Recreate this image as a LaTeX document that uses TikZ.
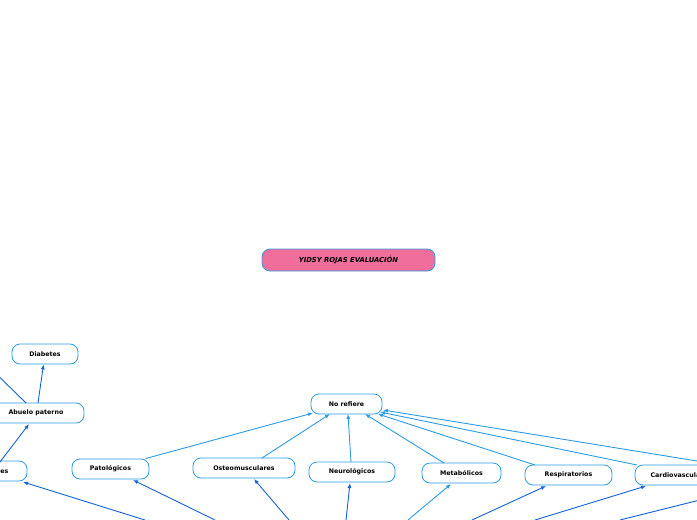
\documentclass[tikz,border=0pt]{standalone}
\usepackage{fontspec}
\setmainfont{DejaVu Sans}
\usetikzlibrary{arrows.meta}
\definecolor{lb}{HTML}{2B9BE3}
\definecolor{db}{HTML}{1462D6}
\definecolor{pk}{HTML}{F06E9B}
\begin{document}
\begin{tikzpicture}[x=1pt,y=-1pt,
  box/.style={draw=lb,line width=0.8pt,rounded corners=8pt,fill=white,minimum height=20pt,inner sep=0pt,font=\bfseries\fontsize{6.3}{7}\selectfont},
  la/.style={lb,line width=0.9pt,-{Latex[length=5pt,width=4pt]}},
  da/.style={db,line width=0.9pt,-{Latex[length=5pt,width=4pt]}}]
\useasboundingbox (0,0) rectangle (697,520);
\begin{scope}
\clip (0,0) rectangle (697,520);
\node[box,fill=pk,minimum width=173pt,minimum height=22pt,font=\bfseries\itshape\fontsize{6.8}{7}\selectfont] (title) at (348.5,260) {YIDSY ROJAS EVALUACIÓN};
\node[box,minimum width=66pt] (dia) at (45,354) {Diabetes};
\node[box,minimum width=96pt] (abu) at (36,413) {Abuelo paterno};
\node[box,minimum width=86pt] (ant) at (-16,471) {Antecedentes};
\node[box,minimum width=77pt] (pat) at (110.5,469) {Patológicos};
\node[box,minimum width=102pt] (ost) at (244,468) {Osteomusculares};
\node[box,minimum width=86pt] (neu) at (352,472) {Neurológicos};
\node[box,minimum width=71pt] (nor) at (346.5,404) {No refiere};
\node[box,minimum width=79pt] (met) at (461.5,473) {Metabólicos};
\node[box,minimum width=87pt] (res) at (568.5,475) {Respiratorios};
\node[box,minimum width=92pt] (car) at (681,475) {Cardiovasculares};
\coordinate (far) at (740,468);
\coordinate (farb) at (740,490);
\coordinate (up) at (-20,358);
\coordinate (s1) at (145,520); \coordinate (s2) at (215,520);
\coordinate (s3) at (289,520); \coordinate (s4) at (346,520);
\coordinate (s5) at (408,520); \coordinate (s6) at (472,520);
\coordinate (s7) at (535,520); \coordinate (s8) at (620,520);
\draw[la] (pat.north east) ++(-4,0) -- (313,413);
\draw[la] (262,458) -- (330,414);
\draw[la] (351,462) -- (348,414);
\draw[la] (444,463) -- (365,414);
\draw[la] (535,465) -- (378,414);
\draw[la] (637,465) -- (380,412);
\draw[la] (far) -- (383,410);
\draw[da] (38,403) -- (dia);
\draw[db,line width=0.9pt] (26,403) -- (up);
\draw[da] (0,462) -- (29,424);
\draw[da] (s1) -- (23,482);
\draw[da] (s2) -- (133,480);
\draw[da] (s3) -- (254,479);
\draw[da] (s4) -- (350,483);
\draw[la] (s5) -- (451,484);
\draw[da] (s6) -- (546,486);
\draw[da] (s7) -- (646,486);
\draw[da] (s8) -- (farb);
\end{scope}
\end{tikzpicture}
\end{document}
